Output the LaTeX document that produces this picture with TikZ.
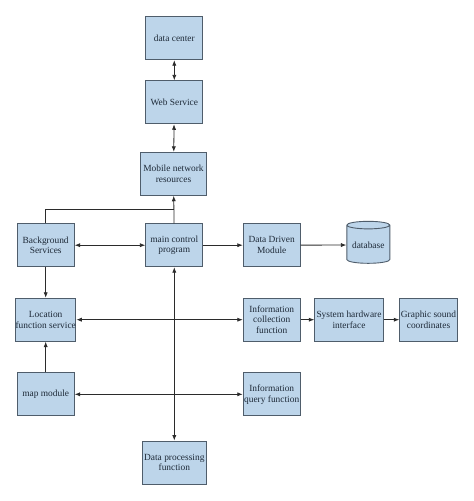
\documentclass[tikz,border=0pt]{standalone}
\usepackage{fontspec}
\setmainfont{Liberation Serif}
\usetikzlibrary{arrows.meta,shapes.geometric,calc}
\definecolor{boxfill}{HTML}{BDD5EA}
\definecolor{boxline}{HTML}{4F5D6B}
\definecolor{wire}{HTML}{2B2B2B}
\definecolor{ink}{HTML}{1E2A38}
\begin{document}
\begin{tikzpicture}[x=1pt,y=-1pt]
\tikzstyle{every node}+=[inner sep=1pt]
\tikzstyle{block}=[draw=boxline,fill=boxfill,line width=0.9pt,minimum width=57pt,minimum height=43pt,align=center,font=\fontsize{9.4}{10.8}\selectfont,text=ink]
\tikzstyle{wide}=[block,minimum width=66pt]
\tikzstyle{store}=[cylinder,shape border rotate=90,aspect=0.22,draw=boxline,fill=boxfill,line width=0.9pt,minimum width=43pt,minimum height=42pt,font=\fontsize{9.4}{10.8}\selectfont,text=ink]
\tikzstyle{wire}=[draw=wire,line width=0.8pt,{Latex[length=5.5pt,width=4.2pt]}-{Latex[length=5.5pt,width=4.2pt]}]
\tikzstyle{oneway}=[draw=wire,line width=0.8pt,-{Latex[length=5.5pt,width=4.2pt]}]
\useasboundingbox (0,0) rectangle (474,501);
\node [block] (dc) at (174.3,38.2) {data center};
\node [block] (ws) at (174.3,102.3) {Web Service};
\node [wide] (mnr) at (173.5,173.8) {Mobile network\\resources};
\node [block] (bg) at (45.7,245.2) {Background\\Services};
\node [block] (main) at (174.3,245.2) {main control\\program};
\node [block] (ddm) at (271.7,245.2) {Data Driven\\Module};
\node [store] (db) at (368.3,245) {database};
\node [block,inner sep=0pt] (loc) at (45.7,319.7) {Location\\function service};
\node [block] (icf) at (271.7,319.7) {Information\\collection\\function};
\node [block,minimum width=68.6pt] (shi) at (349,319.7) {System hardware\\interface};
\node [block,minimum width=57.6pt,inner sep=0pt] (gsc) at (428.5,319.7) {Graphic sound\\coordinates};
\node [block] (map) at (45.7,394.3) {map module};
\node [block,inner sep=0pt] (iqf) at (271.7,394.3) {Information\\query function};
\node [block,minimum width=64.7pt] (dpf) at (174.3,462.5) {Data processing\\function};
\coordinate (join) at ($(main.north)!0.5!(mnr.south)$);
\draw [wire] (dc) -- (ws);
\draw [wire] (ws) -- (mnr);
\draw [oneway] (main) -- (mnr);
\draw [draw=wire,line width=0.8pt] (bg.north) |- (join);
\draw [wire] (bg) -- (main);
\draw [oneway] (main) -- (ddm);
\draw [oneway] (ddm) -- (db);
\draw [oneway] (bg) -- (loc);
\draw [oneway] (map) -- (loc);
\draw [wire] (main) -- (dpf);
\draw [wire] (loc) -- (icf);
\draw [wire] (map) -- (iqf);
\draw [oneway] (icf) -- (shi);
\draw [oneway] (shi) -- (gsc);
\end{tikzpicture}
\end{document}
